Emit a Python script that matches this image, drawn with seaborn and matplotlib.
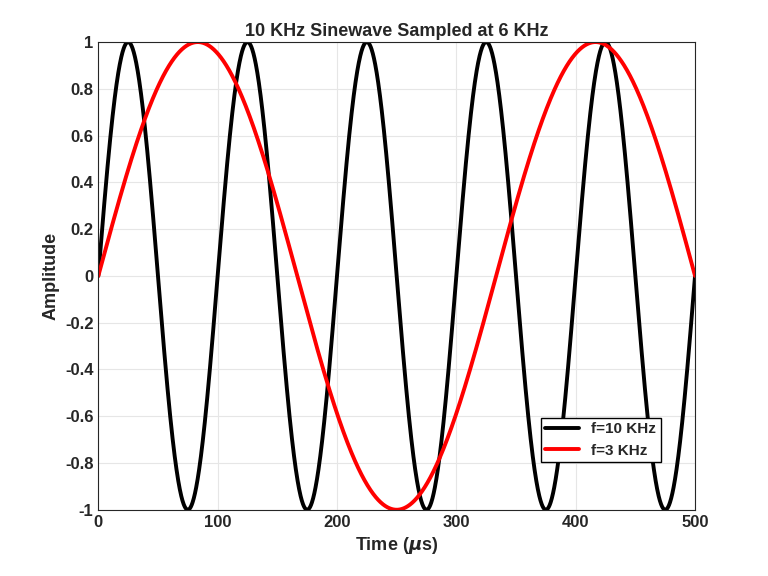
import numpy as np
import pandas as pd
import matplotlib
matplotlib.use("Agg")
import matplotlib.pyplot as plt
import seaborn as sns

# signal parameters
freqs_khz = [10, 3]
labels = ["f=10 KHz", "f=3 KHz"]
colors = ["black", "red"]
t_end_us = 500
y_ticks = [-1, -0.8, -0.6, -0.4, -0.2, 0, 0.2, 0.4, 0.6, 0.8, 1]
x_ticks = [0, 100, 200, 300, 400, 500]

t = np.linspace(0, t_end_us, 2001)
frames = []
for f, lab in zip(freqs_khz, labels):
    frames.append(pd.DataFrame({"t": t, "y": np.sin(2 * np.pi * f * 1e-3 * t), "sig": lab}))
df = pd.concat(frames)

sns.set_style("whitegrid")
plt.rcParams['font.family'] = ['Arial', 'Liberation Sans', 'DejaVu Sans']
plt.rcParams['font.weight'] = 'bold'

fig = plt.figure(figsize=(7.68, 5.76), dpi=100)
ax = fig.add_axes([0.128, 0.115, 0.777, 0.812])
sns.lineplot(data=df, x="t", y="y", hue="sig", palette=colors, linewidth=2.8, ax=ax)

ax.set_xlim(0, t_end_us)
ax.set_ylim(-1, 1)
ax.set_xticks(x_ticks)
ax.set_yticks(y_ticks)
ax.set_yticklabels([f"{v:g}" for v in y_ticks])
ax.tick_params(labelsize=12, direction='in', length=4, color='#262626')
for lbl in ax.get_xticklabels() + ax.get_yticklabels():
    lbl.set_fontweight('bold')
ax.grid(True, color='#e6e6e6', linewidth=0.8)
for s in ax.spines.values():
    s.set_color('#262626')
    s.set_linewidth(0.8)
ax.set_xlabel(r"Time ($\mu$s)", fontsize=13, fontweight='bold')
ax.set_ylabel("Amplitude", fontsize=13, fontweight='bold')
ax.set_title("10 KHz Sinewave Sampled at 6 KHz", fontsize=13, fontweight='bold', pad=4)

leg = ax.legend(loc='lower right', bbox_to_anchor=(0.955, 0.085), fontsize=11,
                fancybox=False, framealpha=1, edgecolor='black', borderpad=0.3,
                handlelength=2.2)
for txt in leg.get_texts():
    txt.set_fontweight('bold')

fig.savefig("out.png", dpi=100, facecolor='white')
